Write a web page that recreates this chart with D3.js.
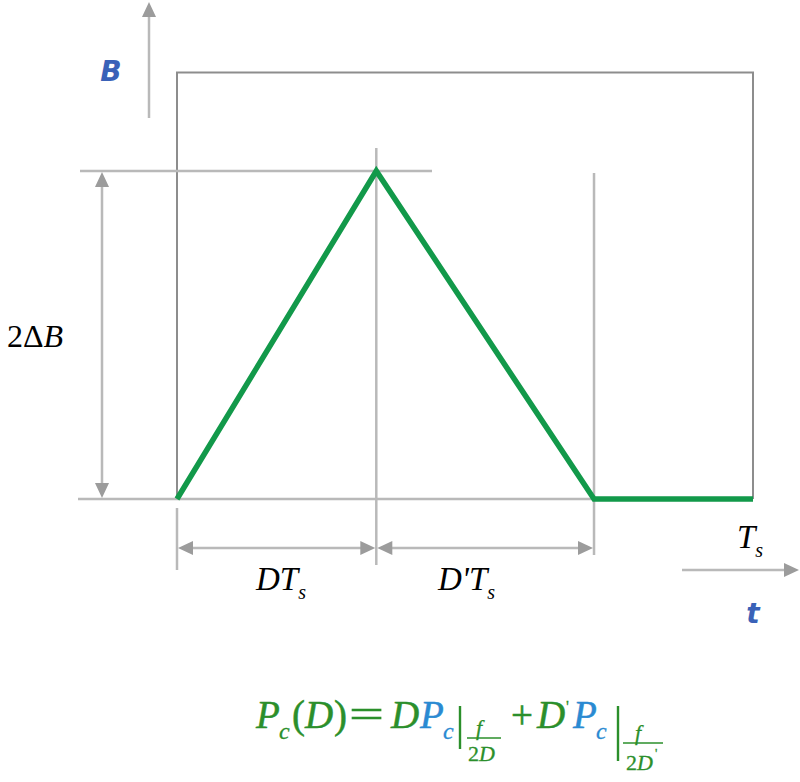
<!DOCTYPE html>
<html>
<head>
<meta charset="utf-8">
<script src="https://cdn.jsdelivr.net/npm/d3@7"></script>
<style>
  html, body { margin: 0; padding: 0; background: #fff; }
  svg { display: block; }
  .math { font-family: 'Liberation Serif', 'DejaVu Serif', serif; font-style: italic; }
  .axisname { font-family: 'DejaVu Sans', sans-serif; font-weight: bold; font-style: italic; fill: #3a62b8; }
</style>
</head>
<body>
<div id="chart"></div>
<script>
// duty cycle D and D' (fractions of Ts)
const dutyD = 0.346;
const dutyD2 = 0.378;

// flux waveform: time in units of Ts, B in units of deltaB
const waveT = [0, dutyD, dutyD + dutyD2, 1];
const waveB = [0, 2, 0, 0];

// frame top, in units of deltaB
const frameTop = 2.6;

const width = 800;
const height = 782;

const svg = d3.select('#chart')
  .append('svg')
  .attr('width', width)
  .attr('height', height);

const xScale = d3.scaleLinear().domain([0, 1]).range([177, 753]);
const yScale = d3.scaleLinear().domain([0, 2]).range([499, 171]);

const guide = '#b9b9b9';
const headFill = '#9c9c9c';

function line(x1, y1, x2, y2, color, w) {
  svg.append('line')
    .attr('x1', x1).attr('y1', y1)
    .attr('x2', x2).attr('y2', y2)
    .attr('stroke', color)
    .attr('stroke-width', w);
}

// arrowhead with tip at (x, y), pointing in direction angle (deg)
function head(x, y, angle, len = 15, half = 7) {
  svg.append('path')
    .attr('d', `M0,0 L${-len},${-half} L${-len},${half} Z`)
    .attr('transform', `translate(${x},${y}) rotate(${angle})`)
    .attr('fill', headFill);
}

// frame
svg.append('path')
  .attr('d', `M${xScale(0)},${yScale(0)} V${yScale(frameTop)} H${xScale(1)} V${yScale(0)}`)
  .attr('fill', 'none')
  .attr('stroke', '#8d8d8d')
  .attr('stroke-width', 2);

// B axis arrow
line(149, 118, 149, 10, guide, 2.5);
head(149, 2, -90);

// t axis arrow
line(682, 570, 790, 570, guide, 2.5);
head(799, 570, 0);

// baseline and peak line
line(78, yScale(0), xScale(1), yScale(0), guide, 2.5);
line(80, yScale(2), 432, yScale(2), guide, 2.5);

// vertical guides
line(xScale(dutyD), 148, xScale(dutyD), 565, guide, 2.5);
line(xScale(dutyD + dutyD2), 173, xScale(dutyD + dutyD2), 555, guide, 2.5);
line(xScale(0), 508, xScale(0), 570, guide, 2.5);

// 2 deltaB dimension
line(102, yScale(2) + 10, 102, yScale(0) - 10, guide, 2.5);
head(102, yScale(2) + 1, -90);
head(102, yScale(0) - 1, 90);

// DTs and D'Ts dimensions
const dimY = 548;
line(xScale(0) + 8, dimY, xScale(dutyD) - 8, dimY, guide, 2.5);
head(xScale(0) + 1, dimY, 180);
head(xScale(dutyD) - 1, dimY, 0);
line(xScale(dutyD) + 8, dimY, xScale(dutyD + dutyD2) - 8, dimY, guide, 2.5);
head(xScale(dutyD) + 1, dimY, 180);
head(xScale(dutyD + dutyD2) - 1, dimY, 0);

// waveform
const pts = waveT.map((t, i) => [xScale(t), yScale(waveB[i])]);
svg.append('path')
  .attr('d', d3.line()(pts))
  .attr('fill', 'none')
  .attr('stroke', '#12994a')
  .attr('stroke-width', 5.5)
  .attr('stroke-linejoin', 'miter');

// labels
svg.append('text').attr('class', 'axisname')
  .attr('x', 111).attr('y', 81).attr('text-anchor', 'middle')
  .attr('font-size', 28).text('B');
svg.append('text').attr('class', 'axisname')
  .attr('x', 753).attr('y', 623).attr('text-anchor', 'middle')
  .attr('font-size', 28).text('t');

svg.append('text').attr('class', 'math')
  .attr('x', 7).attr('y', 347).attr('font-size', 32)
  .call((t) => {
    t.append('tspan').attr('font-style', 'normal').text('2Δ');
    t.append('tspan').attr('font-style', 'italic').text('B');
  });

function tsLabel(x, y, pre) {
  const t = svg.append('text').attr('class', 'math')
    .attr('x', x).attr('y', y).attr('font-size', 33);
  t.append('tspan').text(pre + 'T');
  t.append('tspan').attr('font-size', 20).attr('dy', 9).text('s');
}
tsLabel(256, 590, 'D');
tsLabel(438, 590, "D'");
tsLabel(737, 548, '');

// formula
const green = '#2b8f2b';
const blue = '#2a8ad2';
const fy = 728;
const f = svg.append('g').attr('class', 'math');

function txt(x, y, s, color, size, italic = true, len = null) {
  const t = f.append('text').attr('x', x).attr('y', y)
    .attr('fill', color).attr('font-size', size)
    .attr('stroke', color).attr('stroke-width', size > 30 ? 0.5 : 0.3)
    .attr('font-style', italic ? 'italic' : 'normal')
    .text(s);
  if (len) t.attr('textLength', len).attr('lengthAdjust', 'spacingAndGlyphs');
}
const big = 39, sub = 24, frac = 22;
txt(256, fy, 'P', green, big);
txt(279, fy + 11, 'c', green, sub);
txt(292, fy, '(', green, big, false);
txt(305, fy, 'D', green, big);
txt(334, fy, ')', green, big, false);
txt(349, fy, '=', green, big, false, 35);
txt(391, fy, 'D', green, big);
txt(420, fy, 'P', blue, big);
txt(443, fy + 11, 'c', blue, sub);
line(460, 706, 460, 749, green, 2.4);
txt(476, 735, 'f', green, frac);
line(467, 738, 501, 738, green, 1.5);
txt(468, 761, '2', green, frac, false);
txt(479, 761, 'D', green, frac);
txt(511, fy, '+', green, big, false, 22);
txt(537, fy, 'D', green, big);
txt(566, fy - 16, "'", green, 16, false);
txt(573, fy, 'P', blue, big);
txt(596, fy + 11, 'c', blue, sub);
line(618, 706, 618, 761, green, 2.4);
txt(635, 740, 'f', green, frac);
line(623, 743, 663, 743, green, 1.5);
txt(626, 770, '2', green, frac, false);
txt(637, 770, 'D', green, frac);
txt(655, 757, "'", green, 13, false);
</script>
</body>
</html>
